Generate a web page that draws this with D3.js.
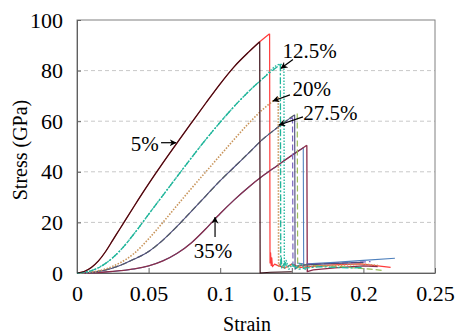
<!DOCTYPE html>
<html><head><meta charset="utf-8">
<script src="https://cdn.jsdelivr.net/npm/d3@7/dist/d3.min.js"></script>
<style>body{margin:0;background:#fff}svg{display:block}</style>
</head><body><svg id="c" width="474" height="336"></svg>
<script>
// ---- data ----
const xTicks = [0, 0.05, 0.1, 0.15, 0.2, 0.25];
const xTickLabels = ["0", "0.05", "0.1", "0.15", "0.2", "0.25"];
const yTicks = [0, 20, 40, 60, 80, 100];
const yTickLabels = ["0", "20", "40", "60", "80", "100"];

// 5% samples
const strain5 = [0,0.005,0.01,0.015,0.02,0.025,0.03,0.04,0.05,0.06,0.07,0.08,0.09,0.1,0.11,0.12,0.1276];
const stress5 = [0,0.6,2.2,4.8,8.5,13,17.5,26.5,35.2,43.5,51.5,59.4,67.2,74.8,81.7,87.4,91.4];
const tailStrain5a = [0.1279,0.135,0.15];
const tailStress5a = [0,0.3,0.5];
const peakStrain5b = [0.1345];
const peakStress5b = [94.6];
const tailStrain5b = [0.1348,0.1352,0.1356,0.136,0.1365,0.138,0.14,0.145,0.15,0.156,0.179,0.198,0.219];
const tailStress5b = [4,8,3,6,2.5,3.5,3,2,3.5,2.2,3.2,3.6,2.2];

// 12.5% samples
const strain12 = [0,0.01,0.02,0.03,0.04,0.05,0.06,0.07,0.08,0.09,0.1,0.11,0.12,0.13,0.142];
const stress12 = [0,0.9,3.8,8.8,15.6,23.2,30.7,38.2,45.6,52.8,59.6,66,71.8,77,82.5];
const tailStrain12a = [0.1423,0.1427,0.143,0.145,0.147,0.15,0.155,0.16,0.17,0.19,0.2];
const tailStress12a = [3,6,2,4,2.5,3.5,1.5,2,2.5,2,2.2];
const peakStrain12b = [0.1445];
const peakStress12b = [82];
const tailStrain12b = [0.1448,0.146,0.148,0.15,0.153,0.156,0.16];
const tailStress12b = [2,5,1.5,3,2,4,1];

// 20% sample
const strain20 = [0,0.01,0.02,0.03,0.04,0.05,0.06,0.07,0.08,0.09,0.1,0.11,0.12,0.13,0.1405];
const stress20 = [0,0.4,1.6,4,7.8,13.5,20,26.8,33.5,40,46.5,53,59.2,64.8,69.5];
const tailStrain20 = [0.1408,0.142,0.145,0.15,0.16,0.18,0.2,0.21];
const tailStress20 = [2.5,4,2,3,2.5,3,3.5,3];

// 27.5% samples
const strain27 = [0,0.01,0.02,0.03,0.04,0.05,0.06,0.07,0.08,0.09,0.1,0.11,0.12,0.13,0.14,0.152];
const stress27 = [0,0.3,1.2,3,5.5,8.5,13,18.5,24.5,30.5,36.5,42,47.5,53,57.5,62.5];
const tailStrain27a = [0.1523,0.155,0.17,0.19,0.2];
const tailStress27a = [1.5,3,3.5,4,4.2];
const peakStrain27b = [0.1505];
const peakStress27b = [61.5];
const tailStrain27b = [0.1508,0.153,0.16,0.18,0.205];
const tailStress27b = [3,4,3.5,3.8,4.5];
const peakStrain27c = [0.1538];
const peakStress27c = [63];
const tailStrain27c = [0.1541,0.157,0.165,0.185,0.205,0.214];
const tailStress27c = [2,3.5,3,2.5,1.5,1];

// 35% samples
const strain35 = [0,0.01,0.02,0.03,0.04,0.05,0.06,0.07,0.08,0.09,0.1,0.11,0.12,0.13,0.14,0.15,0.158,0.1605];
const stress35 = [0,0.1,0.4,0.9,1.6,2.8,4.8,7.8,12,17.5,23.5,29,34,38.5,42.5,46.5,49.5,50.5];
const tailStrain35a = [0.1608,0.165,0.18,0.2,0.21];
const tailStress35a = [0.5,1.2,2,2.8,2.5];
const tailStrain35b = [0.1583,0.161,0.18,0.2,0.222];
const tailStress35b = [3,3.6,4.2,5,5.8];

// annotation labels (data units)
const annTexts = ["5%", "12.5%", "20%", "27.5%", "35%"];
const annTextX = [0.0375, 0.1435, 0.1505, 0.158, 0.0815];
const annTextY = [48.2, 84.8, 70.0, 60.5, 5.9];
const annFromX = [0.0587, 0.1508, 0.1487, 0.1578, 0.0964];
const annFromY = [51.5, 84.4, 70.4, 61.7, 14.2];
const annToX = [0.0691, 0.1425, 0.1369, 0.1411, 0.0964];
const annToY = [51.5, 80.9, 68.0, 58.5, 22.0];

// ---- build ----
const FONT = "'Liberation Serif', 'Times New Roman', Times, 'DejaVu Serif', serif";
function pts(xs, ys){ return xs.map((x,i)=>[x, ys[i]]); }
function upTo(xs, ys, xmax){ const r=[]; xs.forEach((x,i)=>{ if(x<=xmax+1e-9) r.push([x,ys[i]]); }); return r; }

const series = [
  {c:"#ff3b3b", d:null, w:1.2, rise: pts(strain5,stress5).concat(pts(peakStrain5b,peakStress5b)), tail: pts(tailStrain5b,tailStress5b)},
  {c:"#4f81bd", d:null, w:1.1, rise: upTo(strain35,stress35,0.158), tail: pts(tailStrain35b,tailStress35b)},
  {c:"#8b2c4a", d:null, w:1.3, rise: pts(strain35,stress35), tail: pts(tailStrain35a,tailStress35a)},
  {c:"#7a62c0", d:"6,3", w:1.2, rise: upTo(strain27,stress27,0.15).concat(pts(peakStrain27b,peakStress27b)), tail: pts(tailStrain27b,tailStress27b)},
  {c:"#9bbb59", d:"6,3", w:1.2, rise: upTo(strain27,stress27,0.152).concat(pts(peakStrain27c,peakStress27c)), tail: pts(tailStrain27c,tailStress27c)},
  {c:"#4a4a7a", d:null, w:1.1, rise: pts(strain27,stress27), tail: pts(tailStrain27a,tailStress27a)},
  {c:"#c8945a", d:"1.5,1.5", w:1.6, rise: pts(strain20,stress20), tail: pts(tailStrain20,tailStress20)},
  {c:"#2ab8a2", d:"1.5,1.5", w:1.4, rise: upTo(strain12,stress12,0.142).concat(pts(peakStrain12b,peakStress12b)), tail: pts(tailStrain12b,tailStress12b)},
  {c:"#1fb59a", d:"7,2,2,2", w:1.3, rise: pts(strain12,stress12), tail: pts(tailStrain12a,tailStress12a)},
  {c:"#3a0e16", d:null, w:1.2, rise: pts(strain5,stress5), tail: pts(tailStrain5a,tailStress5a)}
];

const W=474,H=336, m={l:77,r:39,t:20,b:63};
const svg=d3.select("#c");
const x=d3.scaleLinear().domain([0,0.25]).range([m.l,W-m.r]);
const y=d3.scaleLinear().domain([0,100]).range([H-m.b,m.t]);

// gridlines
svg.append("g").selectAll("line").data(yTicks.filter(v=>v>0&&v<100)).join("line")
  .attr("x1",x(0)).attr("x2",x(0.25)).attr("y1",d=>y(d)).attr("y2",d=>y(d))
  .attr("stroke","#c8c8c8").attr("stroke-dasharray","4,3").attr("stroke-width",1);

// box
svg.append("rect").attr("x",x(0)).attr("y",y(100)).attr("width",x(0.25)-x(0)).attr("height",y(0)-y(100))
  .attr("fill","none").attr("stroke","#808080").attr("stroke-width",1);

// axes
const xa=svg.append("g").attr("transform",`translate(0,${y(0)})`)
  .call(d3.axisBottom(x).tickValues(xTicks).tickFormat((d,i)=>xTickLabels[i]).tickSizeInner(-5).tickSizeOuter(0).tickPadding(12));
const ya=svg.append("g").attr("transform",`translate(${x(0)},0)`)
  .call(d3.axisLeft(y).tickValues(yTicks).tickFormat((d,i)=>yTickLabels[i]).tickSizeInner(-4).tickSizeOuter(0).tickPadding(14));
[xa,ya].forEach(a=>{a.attr("font-family",null);a.select(".domain").attr("stroke","#606060");a.selectAll(".tick line").attr("stroke","#606060");
  a.selectAll("text").style("font-size","22px").style("font-family",FONT).attr("fill","#000");});

// lines: smooth rising branch, straight drop and residual branch
const smooth=d3.line().x(d=>x(d[0])).y(d=>y(d[1])).curve(d3.curveMonotoneX);
const straight=d3.line().x(d=>x(d[0])).y(d=>y(d[1]));
svg.append("g").selectAll("path").data(series).join("path")
  .attr("d",d=>smooth(d.rise)+straight([d.rise[d.rise.length-1]].concat(d.tail)))
  .attr("fill","none").attr("stroke",d=>d.c)
  .attr("stroke-width",d=>d.w).attr("stroke-dasharray",d=>d.d).attr("stroke-linejoin","round");

// arrows
svg.append("defs").append("marker").attr("id","ah").attr("viewBox","0 0 10 10").attr("refX",9).attr("refY",5)
  .attr("markerWidth",7).attr("markerHeight",7).attr("orient","auto").attr("markerUnits","userSpaceOnUse")
  .append("path").attr("d","M0,0 L10,5 L0,10 L3,5 z").attr("fill","#000");
svg.append("g").selectAll("line").data(annTexts).join("line")
  .attr("x1",(d,i)=>x(annFromX[i])).attr("y1",(d,i)=>y(annFromY[i]))
  .attr("x2",(d,i)=>x(annToX[i])).attr("y2",(d,i)=>y(annToY[i]))
  .attr("stroke","#000").attr("stroke-width",1.2).attr("marker-end","url(#ah)");
svg.append("g").selectAll("text").data(annTexts).join("text")
  .attr("x",(d,i)=>x(annTextX[i])).attr("y",(d,i)=>y(annTextY[i]))
  .style("font-size","21px").style("font-family",FONT).attr("fill","#000").text(d=>d);

// axis titles
svg.append("text").attr("x",247).attr("y",331).attr("text-anchor","middle").style("font-size","20px").style("font-family",FONT).text("Strain");
svg.append("text").attr("transform","translate(27,150) rotate(-90)").attr("text-anchor","middle").style("font-size","20px").style("font-family",FONT).text("Stress (GPa)");
</script></body></html>
